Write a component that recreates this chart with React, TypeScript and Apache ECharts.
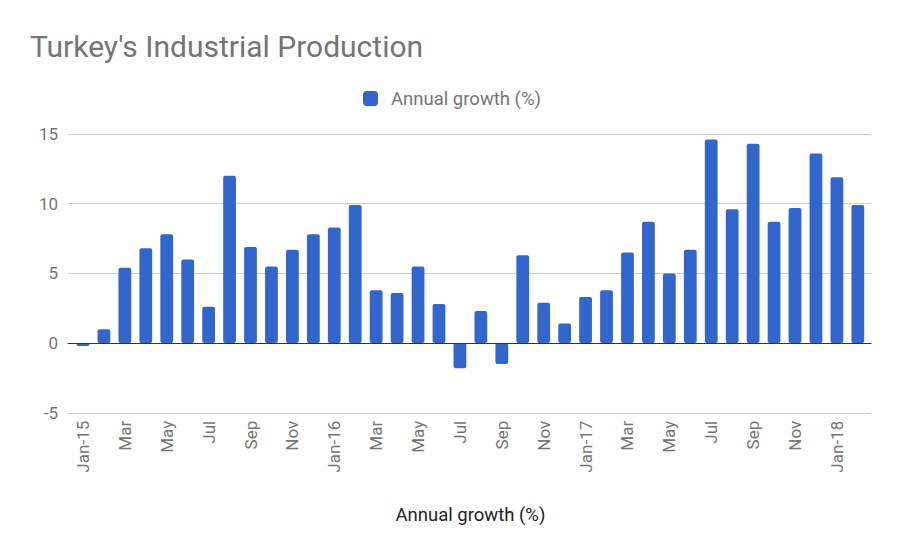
import React, { useEffect, useRef } from "react";
import * as echarts from "echarts";

// Month labels, Jan-15 … Feb-18
const months: string[] = [
  "Jan-15", "Feb", "Mar", "Apr", "May", "Jun", "Jul", "Aug", "Sep", "Oct", "Nov", "Dec",
  "Jan-16", "Feb", "Mar", "Apr", "May", "Jun", "Jul", "Aug", "Sep", "Oct", "Nov", "Dec",
  "Jan-17", "Feb", "Mar", "Apr", "May", "Jun", "Jul", "Aug", "Sep", "Oct", "Nov", "Dec",
  "Jan-18", "Feb",
];

// Annual growth of industrial production, %
const growth: number[] = [
  -0.2, 1.0, 5.4, 6.8, 7.8, 6.0, 2.6, 12.0, 6.9, 5.5, 6.7, 7.8,
  8.3, 9.9, 3.8, 3.6, 5.5, 2.8, -1.8, 2.3, -1.5, 6.3, 2.9, 1.4,
  3.3, 3.8, 6.5, 8.7, 5.0, 6.7, 14.6, 9.6, 14.3, 8.7, 9.7, 13.6,
  11.9, 9.9,
];

const yTicks = { min: -5, max: 15, interval: 5 };

const FONT = "Roboto, 'Noto Sans', sans-serif";
const BAR = "#3366cc";

export default function App() {
  const ref = useRef<HTMLDivElement>(null);

  useEffect(() => {
    if (!ref.current) return;
    const chart = echarts.init(ref.current, undefined, { renderer: "svg" });
    chart.setOption({
      animation: false,
      backgroundColor: "#ffffff",
      textStyle: { fontFamily: FONT },
      title: {
        text: "Turkey's Industrial Production",
        left: 25,
        top: 26,
        textStyle: { fontFamily: FONT, fontSize: 30, fontWeight: "normal", color: "#757575" },
      },
      legend: {
        left: 358,
        top: 84,
        icon: "roundRect",
        itemWidth: 15,
        itemHeight: 15,
        data: ["Annual growth (%)"],
        textStyle: { fontFamily: FONT, fontSize: 18.5, color: "#757575", padding: [0, 0, 0, 8] },
      },
      grid: [
        // frame grid: gridlines and zero line
        { left: 68, right: 28, top: 134, bottom: 143.2 },
        // bar grid
        { left: 72.5, right: 30.7, top: 134, bottom: 143.2 },
      ],
      xAxis: [
        {
          gridIndex: 0,
          type: "category",
          data: [""],
          z: 10,
          axisLine: { show: true, onZero: true, lineStyle: { color: "#333333", width: 1 } },
          axisTick: { show: false },
          axisLabel: { show: false },
        },
        {
          gridIndex: 1,
          type: "category",
          data: months,
          axisLine: { show: false, onZero: false },
          axisTick: { show: false },
          axisLabel: {
            interval: 1,
            rotate: 90,
            margin: 8,
            fontFamily: FONT,
            fontSize: 17,
            color: "#757575",
          },
          name: "Annual growth (%)",
          nameLocation: "middle",
          nameGap: 93,
          nameTextStyle: { fontFamily: FONT, fontSize: 18.5, color: "#222222" },
        },
      ],
      yAxis: [
        {
          gridIndex: 0,
          type: "value",
          ...yTicks,
          axisLine: { show: false },
          axisTick: { show: false },
          axisLabel: { fontFamily: FONT, fontSize: 17, color: "#757575", margin: 10 },
          splitLine: { lineStyle: { color: "#cccccc", width: 1 } },
        },
        {
          gridIndex: 1,
          type: "value",
          ...yTicks,
          show: false,
          splitLine: { show: false },
        },
      ],
      series: [
        {
          name: "Annual growth (%)",
          type: "bar",
          xAxisIndex: 1,
          yAxisIndex: 1,
          data: growth,
          barCategoryGap: "39%",
          itemStyle: { color: BAR, borderRadius: 2 },
        },
      ],
    });
    return () => chart.dispose();
  }, []);

  return (
    <div
      ref={ref}
      style={{ position: "fixed", left: 0, top: 0, width: 899, height: 556 }}
    />
  );
}
